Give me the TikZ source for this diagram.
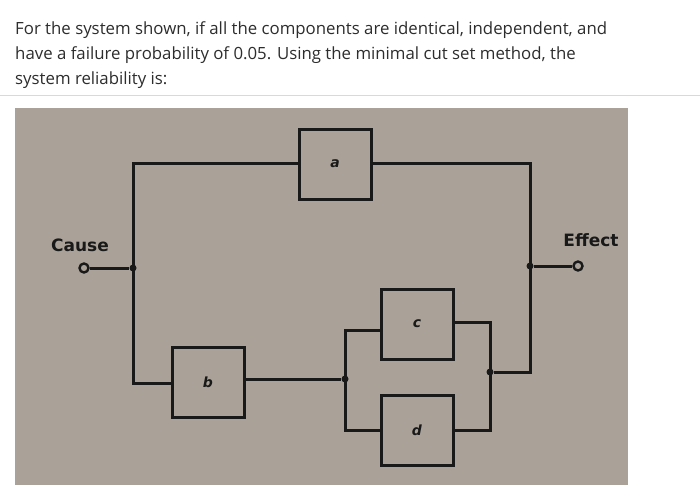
\documentclass[tikz,border=0pt]{standalone}
\usepackage{fontspec}
\setmainfont{Open Sans}
\newfontfamily\diagfont{DejaVu Sans}
\definecolor{panel}{RGB}{170,162,152}
\definecolor{ink}{RGB}{25,25,25}
\definecolor{qtext}{RGB}{45,45,45}
\begin{document}
\begin{tikzpicture}[x=1pt,y=-1pt,
  wire/.style={line width=3pt,draw=ink},
  comp/.style={draw=ink,line width=3pt,minimum width=72pt,minimum height=70pt,inner sep=0pt,font=\diagfont\bfseries\itshape\fontsize{14}{16}\selectfont,text=ink},
  term/.style={circle,draw=ink,line width=2.4pt,fill=panel,inner sep=0pt,minimum size=9pt},
  jn/.style={circle,fill=ink,inner sep=0pt,minimum size=7pt},
  lbl/.style={font=\diagfont\bfseries\fontsize{17}{19}\selectfont,text=ink},
  qline/.style={anchor=west,font=\fontsize{16.8}{19}\selectfont,text=qtext,inner sep=0pt}]
\useasboundingbox (0,0) rectangle (700,500);
\fill[white] (0,0) rectangle (700,500);
\fill[panel] (15,108) rectangle (628,485);
\draw[gray!30] (0,95) -- (700,95);
\node[qline] (q1) at (15,30) {For the system shown, if all the components are identical, independent, and};
\node[qline] (q2) at (15,55) {have a failure probability of 0.05. Using the minimal cut set method, the};
\node[qline] (q3) at (15,80) {system reliability is:};
\node[comp] (a) at (335,164) {a};
\node[comp] (b) at (208,382) {b};
\node[comp] (c) at (417,324) {c};
\node[comp] (d) at (417,430) {d};
\node[jn] (jl) at (133,268) {};
\node[jn] (js) at (345,379) {};
\node[jn] (jm) at (490,372) {};
\node[jn] (jr) at (530,266) {};
\node[term] (cin) at (84,268) {};
\node[term] (eout) at (578,266) {};
\node[lbl] (cl) at (80,245) {Cause};
\node[lbl] (el) at (591,240) {Effect};
\coordinate (tl) at (133,163);
\coordinate (bl) at (133,383);
\coordinate (tr) at (530,163);
\coordinate (br) at (530,372);
\coordinate (st) at (345,330);
\coordinate (sb) at (345,430);
\coordinate (mt) at (490,322);
\coordinate (mb) at (490,430);
\draw[wire] (cin) -- (jl);
\draw[wire] (a.west |- tl) -- (tl) -- (bl) -- (b.west |- bl);
\draw[wire] (a.east |- tr) -- (tr) -- (br) -- (jm);
\draw[wire] (jr) -- (eout);
\draw[wire] (b.east |- js) -- (js);
\draw[wire] (c.west |- st) -- (st) -- (sb) -- (d.west |- sb);
\draw[wire] (c.east |- mt) -- (mt) -- (mb) -- (d.east |- mb);
\end{tikzpicture}
\end{document}
